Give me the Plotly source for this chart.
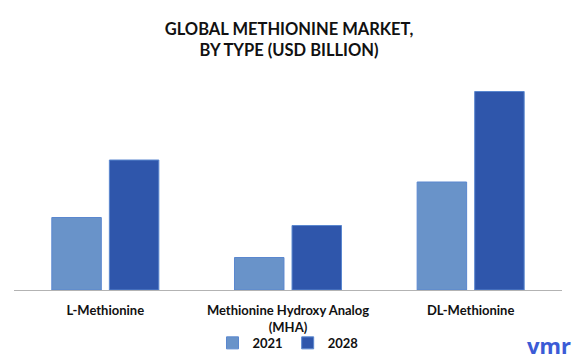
import plotly.graph_objects as go

categories = ["L-Methionine", "Methionine Hydroxy Analog<br>(MHA)", "DL-Methionine"]
years = ["2021", "2028"]
values_2021 = [1.45, 0.65, 2.16]
values_2028 = [2.60, 1.29, 3.97]
colors = ["#6993c9", "#2f56ab"]

fig = go.Figure()
for name, vals, col in zip(years, [values_2021, values_2028], colors):
    fig.add_trace(go.Bar(
        x=categories, y=vals, name=name,
        marker=dict(color=col, line=dict(color="#5a87cf", width=1)),
    ))

fig.update_layout(
    width=578, height=364,
    margin=dict(l=14, r=16, t=80, b=74, autoexpand=False),
    paper_bgcolor="white", plot_bgcolor="white",
    barmode="group", bargap=0.37, bargroupgap=0.14,
    font=dict(family="Lato", color="#111111"),
    title=dict(
        text="<b>GLOBAL METHIONINE MARKET,<br>BY TYPE (USD BILLION)</b>",
        x=0.5, xanchor="center", y=0.905, yanchor="top",
        font=dict(size=16.5, family="Lato", color="#111111", lineposition="none"),
    ),
    xaxis=dict(
        showline=True, linecolor="#b3b3b3", linewidth=1,
        ticks="", showgrid=False, automargin=False, ticklabelstandoff=8,
        tickfont=dict(size=13, family="Lato", weight="bold", color="#111111"),
    ),
    yaxis=dict(range=[0, 4.2], visible=False, showgrid=False, automargin=False),
    legend=dict(
        orientation="h", x=0.5, xanchor="center", y=-0.252, yanchor="middle",
        bgcolor="rgba(0,0,0,0)",
        font=dict(size=13, family="Lato", weight="bold", color="#111111"),
        itemwidth=30, traceorder="normal",
    ),
    showlegend=True,
)

fig.add_annotation(
    text="<b>vmr</b>", xref="paper", yref="paper",
    x=1.02, y=-0.26, xanchor="right", yanchor="middle",
    showarrow=False, font=dict(size=22, family="Noto Sans", color="#3b5bd6"),
)

fig.write_html(
    "out.html",
    config={"displayModeBar": False},
    post_script="document.body.style.margin='0';document.body.style.overflow='hidden';",
)
